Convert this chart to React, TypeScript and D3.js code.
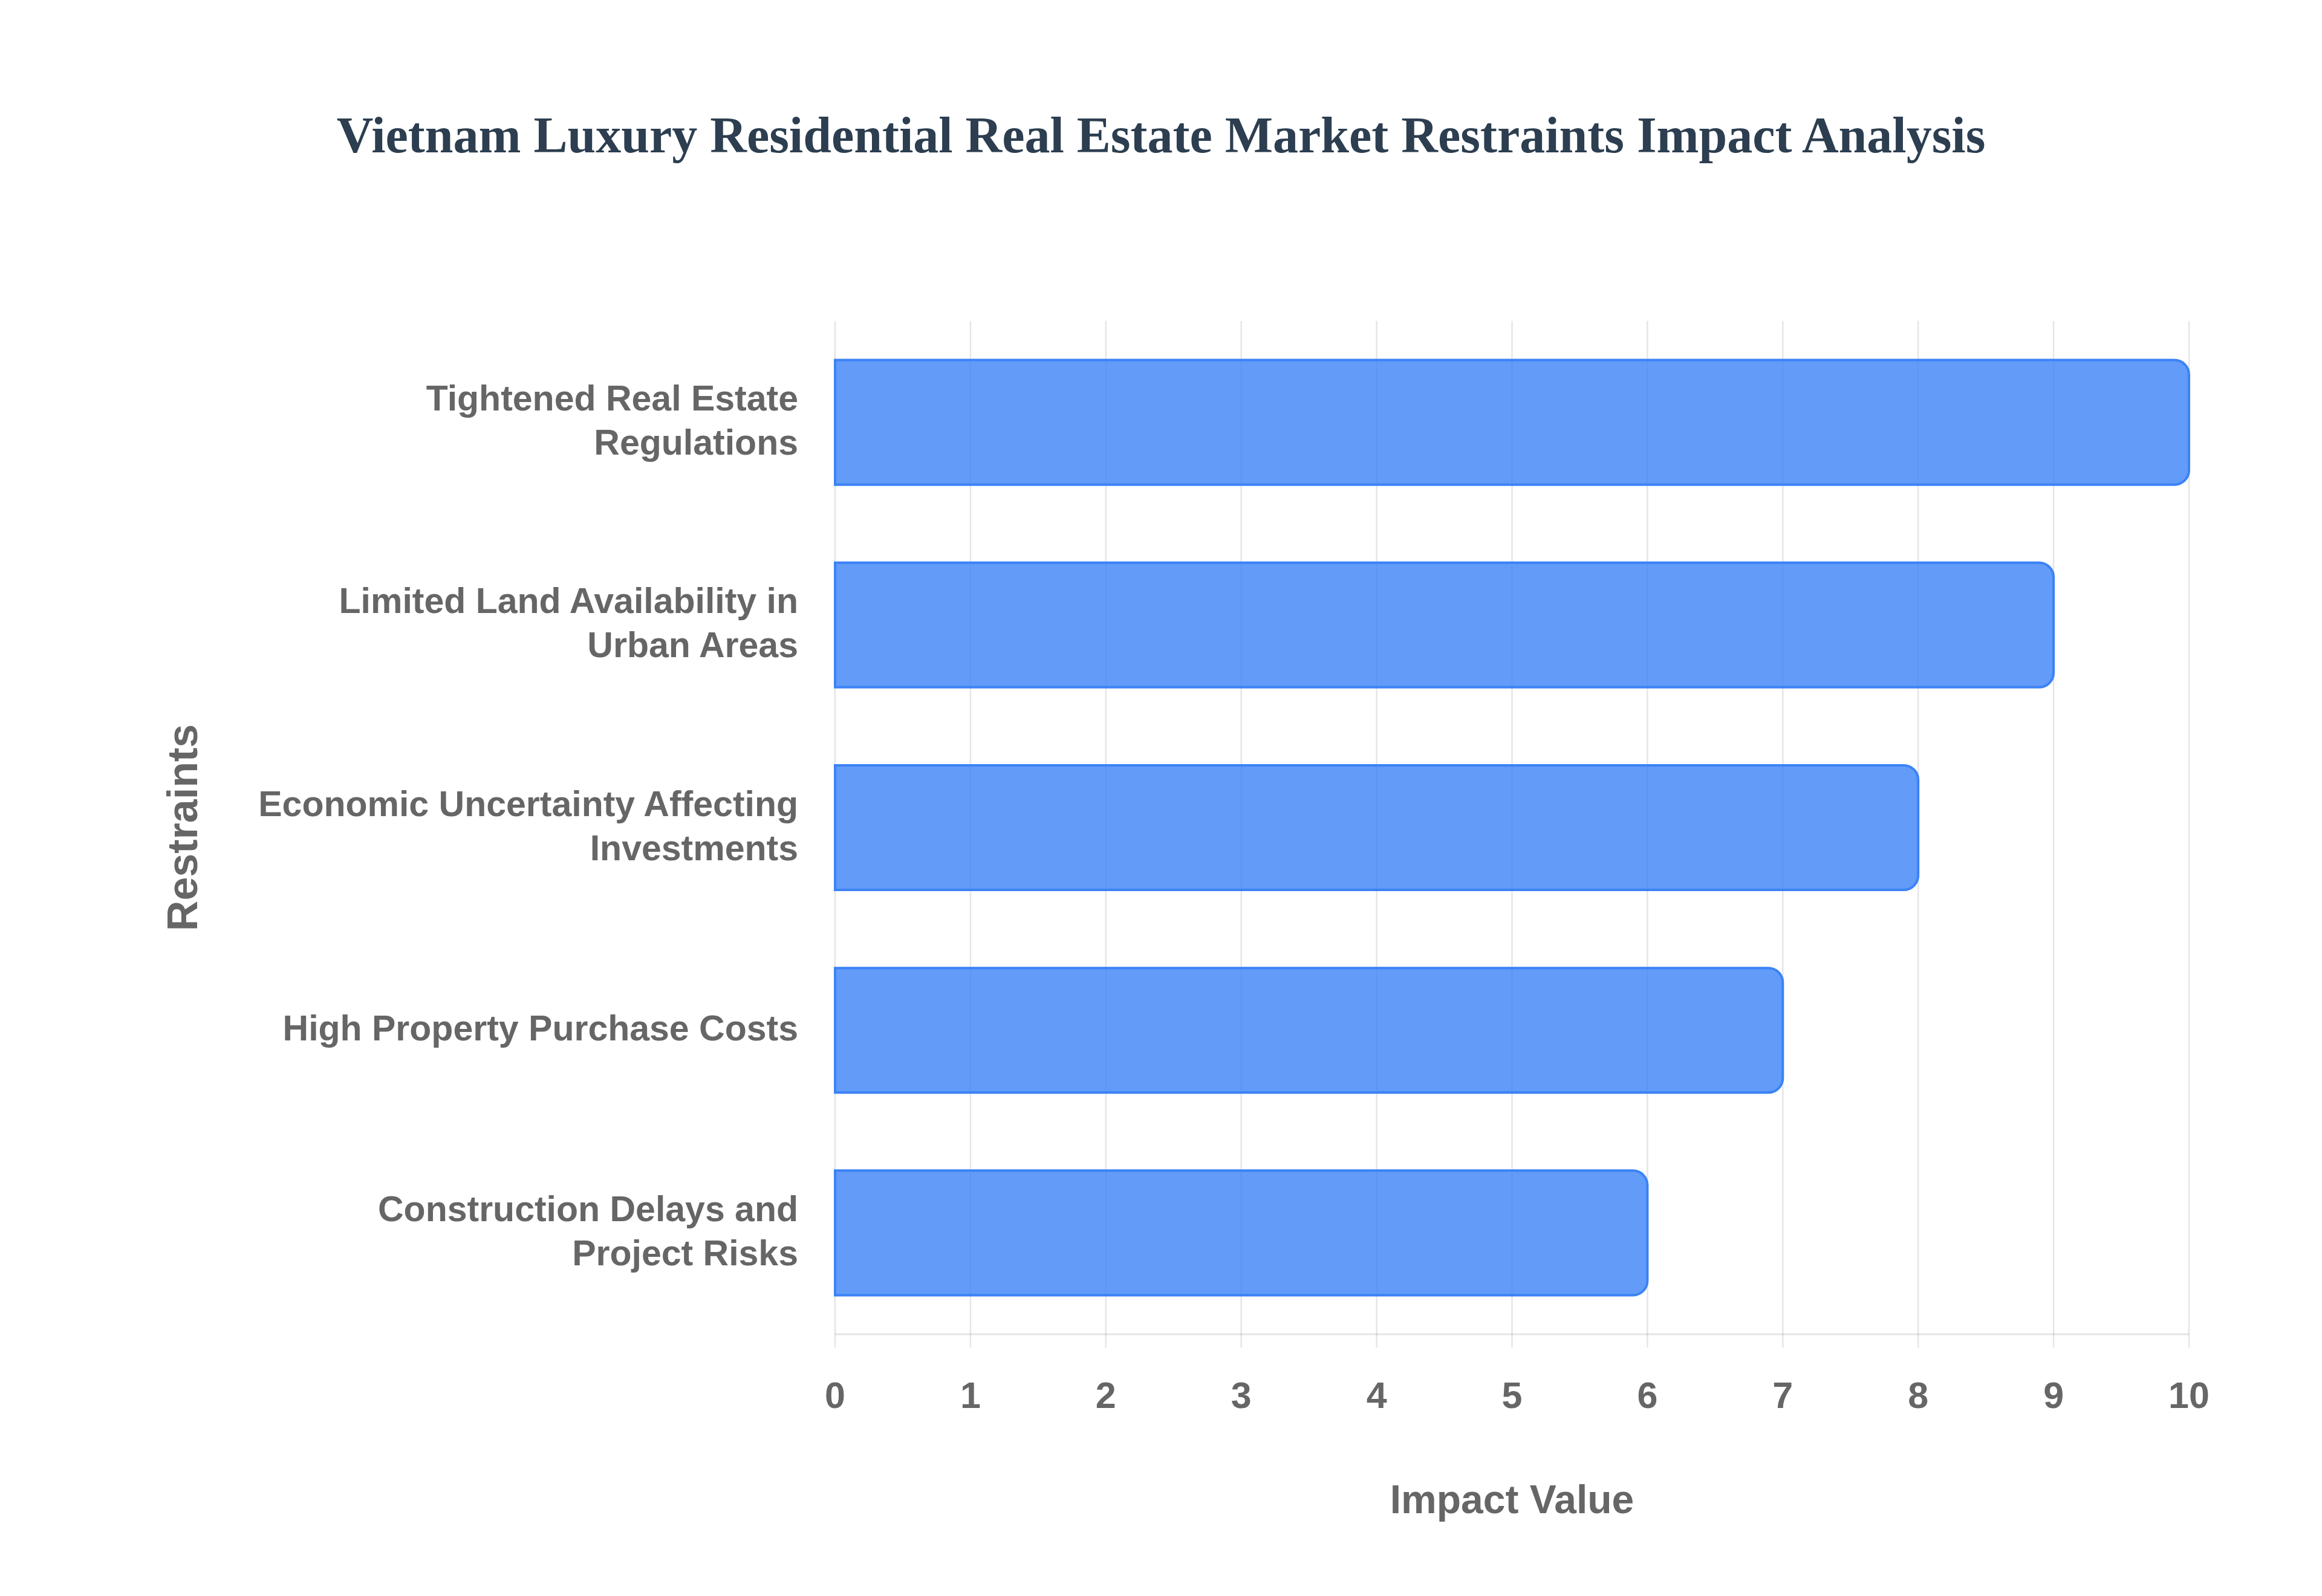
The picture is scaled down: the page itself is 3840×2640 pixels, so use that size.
import * as d3 from "d3";
import { useEffect } from "react";

const restraints = [
  ["Tightened Real Estate", "Regulations"],
  ["Limited Land Availability in", "Urban Areas"],
  ["Economic Uncertainty Affecting", "Investments"],
  ["High Property Purchase Costs"],
  ["Construction Delays and", "Project Risks"],
];
const impactValues = [10, 9, 8, 7, 6];
const xTicks = [0, 1, 2, 3, 4, 5, 6, 7, 8, 9, 10];

const title = "Vietnam Luxury Residential Real Estate Market Restraints Impact Analysis";
const xTitle = "Impact Value";
const yTitle = "Restraints";

// rectangle with rounded right end only (start side is skipped)
function barPath(x0: number, x1: number, y0: number, y1: number, r: number) {
  const rr = Math.min(r, (x1 - x0) / 2, (y1 - y0) / 2);
  return `M${x0},${y0}H${x1 - rr}A${rr},${rr} 0 0 1 ${x1},${y0 + rr}V${y1 - rr}A${rr},${rr} 0 0 1 ${x1 - rr},${y1}H${x0}Z`;
}

export default function App() {
  const width = 3840;
  const height = 2640;
  const marginLeft = 1381;
  const marginRight = 220;
  const marginTop = 531;
  const axisY = 2207;

  useEffect(() => {
    document.body.style.margin = "0";
  }, []);

  const keys = restraints.map((d) => d.join(" "));
  const x = d3.scaleLinear([0, 10], [marginLeft, width - marginRight]);
  const y = d3.scaleBand(keys, [marginTop, axisY]).paddingInner(0.385).paddingOuter(0.1925);

  const sans = "'Liberation Sans', Arial, Helvetica, sans-serif";
  const gridColor = "rgba(0,0,0,0.1)";
  const textColor = "#666666";

  return (
    <svg width={width} height={height} style={{ display: "block", background: "#ffffff" }}>
      <text
        x={width / 2}
        y={252}
        textAnchor="middle"
        fontFamily="'Liberation Serif', 'Times New Roman', serif"
        fontWeight="bold"
        fontSize={84}
        fill="#2c3e50"
      >
        {title}
      </text>

      {/* vertical grid lines + tick marks */}
      <g>
        {xTicks.map((t) => (
          <line key={t} x1={x(t)} x2={x(t)} y1={marginTop} y2={axisY + 22} stroke={gridColor} strokeWidth={2.5} />
        ))}
        <line x1={x(0)} x2={x(10)} y1={axisY} y2={axisY} stroke={gridColor} strokeWidth={3} />
      </g>

      {/* bars */}
      <g>
        {impactValues.map((v, i) => {
          const y0 = y(keys[i])!;
          return (
            <path
              key={i}
              d={barPath(x(0), x(v), y0, y0 + y.bandwidth(), 24)}
              fill="rgba(59,130,246,0.8)"
              stroke="#3b82f6"
              strokeWidth={4}
            />
          );
        })}
      </g>

      {/* category labels */}
      <g fontFamily={sans} fontWeight="bold" fontSize={59} fill={textColor} textAnchor="end">
        {restraints.map((lines, i) => {
          const cy = y(keys[i])! + y.bandwidth() / 2;
          const lh = 73;
          const first = cy - ((lines.length - 1) * lh) / 2;
          return (
            <text key={i} x={1320}>
              {lines.map((ln, j) => (
                <tspan key={j} x={1320} y={first + j * lh + 17}>
                  {ln}
                </tspan>
              ))}
            </text>
          );
        })}
      </g>

      {/* x tick labels */}
      <g fontFamily={sans} fontWeight="bold" fontSize={61} fill={textColor} textAnchor="middle">
        {xTicks.map((t) => (
          <text key={t} x={x(t)} y={2329}>
            {t}
          </text>
        ))}
      </g>

      <text x={(x(0) + x(10)) / 2} y={2503} textAnchor="middle" fontFamily={sans} fontWeight="bold" fontSize={66} fill={textColor}>
        {xTitle}
      </text>
      <text
        transform={`translate(326,${(marginTop + axisY) / 2}) rotate(-90)`}
        textAnchor="middle"
        fontFamily={sans}
        fontWeight="bold"
        fontSize={70}
        fill={textColor}
      >
        {yTitle}
      </text>
    </svg>
  );
}
